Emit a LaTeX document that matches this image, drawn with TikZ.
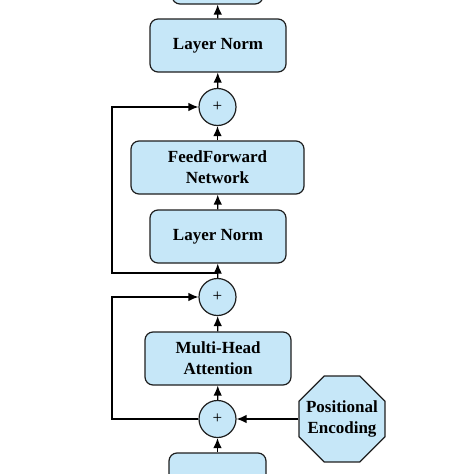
\documentclass[tikz,border=0pt]{standalone}
\usepackage{fontspec}
\setmainfont{Liberation Serif}
\usetikzlibrary{arrows.meta,shapes.geometric}
\definecolor{boxblue}{RGB}{198,231,248}
\definecolor{edge}{RGB}{30,30,30}
\tikzset{
  blk/.style={draw=edge, line width=1.2pt, fill=boxblue, rounded corners=8pt,
    align=center, inner sep=0pt, font=\fontsize{17}{21}\selectfont\bfseries},
  addc/.style={draw=edge, line width=1.2pt, fill=boxblue, circle, minimum size=37pt,
    inner sep=0pt, font=\fontsize{17}{17}\selectfont},
  octa/.style={draw=edge, line width=1.2pt, fill=boxblue, regular polygon, regular polygon sides=8,
    minimum size=93pt, inner sep=0pt},
  lbl/.style={align=center, inner sep=0pt, font=\fontsize{17}{21}\selectfont\bfseries},
  conn/.style={line width=1.3pt, draw=black, -{Latex[length=10pt,width=8.5pt]}}
}
\begin{document}
\begin{tikzpicture}[x=1pt,y=-1pt]
\useasboundingbox (0,0) rectangle (474,474);
\begin{scope}
\clip (0,0) rectangle (474,474);
\node[blk, minimum width=91pt, minimum height=30pt] (top) at (217.5,-11) {};
\node[blk, minimum width=136pt, minimum height=53pt] (ln1) at (218,45.5) {Layer Norm};
\node[addc] (c1) at (217.5,107) {+};
\node[blk, minimum width=173pt, minimum height=53pt] (ff) at (217.5,167.5) {FeedForward\\Network};
\node[blk, minimum width=136pt, minimum height=53pt] (ln2) at (218,236.5) {Layer Norm};
\node[addc] (c2) at (217.5,297) {+};
\node[blk, minimum width=146pt, minimum height=53pt] (mha) at (218,358.5) {Multi-Head\\Attention};
\node[addc] (c3) at (217.5,419) {+};
\node[blk, minimum width=97pt, minimum height=44pt] (bot) at (217.5,475) {};
\node[octa] (pe) at (342,419) {};
\node[lbl] (pet) at (pe.center) {Positional\\Encoding};

\coordinate (j1) at (217.5,273);
\coordinate (l1a) at (112,273);
\coordinate (l1b) at (112,107);
\coordinate (l2a) at (112,419);
\coordinate (l2b) at (112,297);

\draw[conn] (ln1) -- (top);
\draw[conn] (c1) -- (ln1);
\draw[conn] (ff) -- (c1);
\draw[conn] (ln2) -- (ff);
\draw[conn] (c2) -- (ln2);
\draw[conn] (mha) -- (c2);
\draw[conn] (c3) -- (mha);
\draw[conn] (bot) -- (c3);
\draw[conn] (pe) -- (c3);
\draw[conn] (j1) -- (l1a) -- (l1b) -- (c1);
\draw[conn] (c3) -- (l2a) -- (l2b) -- (c2);
\end{scope}
\end{tikzpicture}
\end{document}
